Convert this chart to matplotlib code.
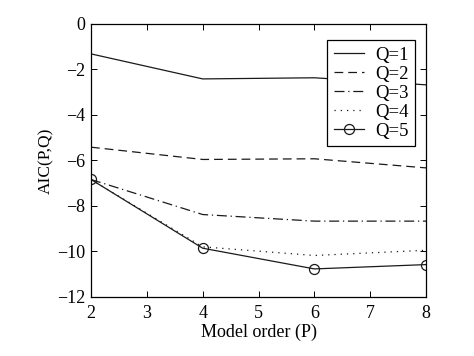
import matplotlib.pyplot as plt

# Model order and AIC values
orders = [2, 4, 6, 8]
aic_q1 = [-1.32, -2.42, -2.37, -2.68]
aic_q2 = [-5.42, -5.96, -5.93, -6.33]
aic_q3 = [-6.84, -8.38, -8.67, -8.67]
aic_q4 = [-6.84, -9.80, -10.18, -9.95]
aic_q5 = [-6.84, -9.86, -10.77, -10.58]

plt.rcParams['font.family'] = ['Liberation Serif', 'DejaVu Serif']
plt.rcParams['font.size'] = 13

fig = plt.figure(figsize=(4.74, 3.56), dpi=100)
ax = fig.add_axes([0.192, 0.166, 0.707, 0.767])

lc = '#1a1a1a'
ax.plot(orders, aic_q1, color=lc, lw=0.9, linestyle='-', label='Q=1')
ax.plot(orders, aic_q2, color=lc, lw=0.9, linestyle=(0, (7, 4)), label='Q=2')
ax.plot(orders, aic_q3, color=lc, lw=0.9, linestyle=(0, (8, 3, 1, 3)), label='Q=3')
ax.plot(orders, aic_q4, color=lc, lw=0.9, linestyle=(0, (1, 4)), label='Q=4')
ax.plot(orders, aic_q5, color=lc, lw=0.9, linestyle='-', marker='o',
        markersize=7.2, markerfacecolor='none', markeredgewidth=0.9, label='Q=5')

ax.set_xlim(2, 8)
ax.set_ylim(-12, 0)
ax.set_xticks(range(2, 9))
ax.set_yticks(range(-12, 1, 2))
ax.set_yticklabels(['\u221212', '\u221210', '\u22128', '\u22126', '\u22124', '\u22122', '0'])
ax.tick_params(direction='in', top=True, right=True, length=4, width=0.7,
               labelsize=13)
ax.tick_params(axis='x', pad=6)
ax.tick_params(axis='y', pad=4)
for s in ax.spines.values():
    s.set_linewidth(0.9)

ax.set_xlabel('Model order (P)', fontsize=13, labelpad=1)
ax.set_ylabel('AIC(P,Q)', fontsize=12.5, labelpad=2)

leg = ax.legend(loc='upper right', bbox_to_anchor=(0.967, 0.941), fancybox=False,
                edgecolor='black', framealpha=1, borderaxespad=0, handlelength=1.6,
                handletextpad=0.6, labelspacing=0.1, borderpad=0.35, fontsize=13.5)
leg.get_frame().set_linewidth(0.9)

fig.savefig('out.png', dpi=100)
